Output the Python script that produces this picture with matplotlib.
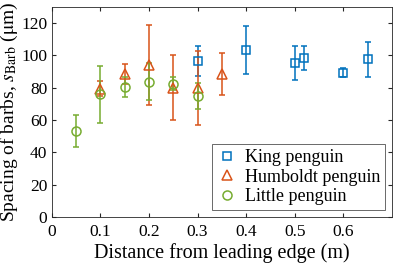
import matplotlib
matplotlib.use('Agg')
import matplotlib.pyplot as plt

# King penguin
king_x = [0.30, 0.40, 0.50, 0.52, 0.60, 0.65]
king_y = [96.6, 103.4, 95.1, 98.6, 89.4, 97.6]
king_err = [9.5, 15.0, 10.5, 7.4, 2.6, 11.0]

# Humboldt penguin
humb_x = [0.10, 0.15, 0.20, 0.25, 0.30, 0.35]
humb_y = [79.4, 88.5, 94.0, 80.0, 79.7, 88.5]
humb_err = [4.6, 6.0, 24.8, 20.0, 23.0, 13.0]

# Little penguin
little_x = [0.05, 0.10, 0.15, 0.20, 0.25, 0.30]
little_y = [53.4, 76.0, 80.3, 83.8, 82.4, 74.9]
little_err = [10.0, 17.5, 6.3, 11.4, 4.0, 8.0]

plt.rcParams['font.family'] = 'Liberation Serif'
plt.rcParams['mathtext.fontset'] = 'stix'

fig = plt.figure(figsize=(3.94, 2.67), dpi=100)
ax = fig.add_axes([0.131, 0.187, 0.864, 0.787])

common = dict(linestyle='none', capsize=2.5, elinewidth=1.1, capthick=1.1,
              markerfacecolor='none', markeredgewidth=1.1)
k = ax.errorbar(king_x, king_y, yerr=king_err, fmt='s', color='#0072BD',
                markersize=5.5, **common)
h = ax.errorbar(humb_x, humb_y, yerr=humb_err, fmt='^', color='#D95319',
                markersize=7, **common)
l = ax.errorbar(little_x, little_y, yerr=little_err, fmt='o', color='#77AC30',
                markersize=6.5, **common)

ax.set_xlim(0, 0.7)
ax.set_ylim(0, 130)
ax.set_xticks([0, 0.1, 0.2, 0.3, 0.4, 0.5, 0.6])
ax.set_xticklabels(['0', '0.1', '0.2', '0.3', '0.4', '0.5', '0.6'])
ax.set_yticks([0, 20, 40, 60, 80, 100, 120])
ax.tick_params(direction='in', labelsize=12.5, length=3, color='0.15',
               top=True, right=True)
ax.tick_params(axis='x', pad=5)
ax.tick_params(axis='y', pad=3)
for s in ax.spines.values():
    s.set_color('0.15')
    s.set_linewidth(0.6)

ax.set_xlabel('Distance from leading edge (m)', fontsize=14.5, labelpad=2)
ax.set_ylabel(r'Spacing of barbs, $s_{\mathrm{Barb}}$ ($\mathrm{\mu m}$)',
              fontsize=14, labelpad=1)

leg = ax.legend([k[0], h[0], l[0]],
                ['King penguin', 'Humboldt penguin', 'Little penguin'],
                loc='lower right', fontsize=13, frameon=True, fancybox=False,
                edgecolor='0.15', handletextpad=0.4, borderpad=0.25,
                labelspacing=0.15, handlelength=1.2, borderaxespad=0.4)
leg.get_frame().set_linewidth(0.6)

fig.savefig('out.png', dpi=100)
